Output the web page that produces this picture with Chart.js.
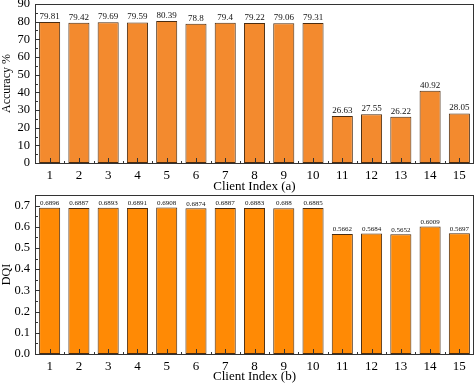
<!DOCTYPE html>
<html>
<head>
<meta charset="utf-8">
<script src="https://cdn.jsdelivr.net/npm/chart.js@4.4.1/dist/chart.umd.min.js"></script>
<style>
  html, body { margin: 0; padding: 0; background: #fff; }
  #quadro { position: relative; width: 474px; height: 384px; overflow: hidden; }
  canvas { position: absolute; left: 0; }
  #grafico-acuracia { top: 0; }
  #grafico-dqi { top: 190px; }
</style>
</head>
<body>
<div id="quadro">
  <canvas id="grafico-acuracia" width="474" height="194"></canvas>
  <canvas id="grafico-dqi" width="474" height="194"></canvas>
</div>
<script>
const clientes = ["1", "2", "3", "4", "5", "6", "7", "8", "9", "10", "11", "12", "13", "14", "15"];
const acuracia = [79.81, 79.42, 79.69, 79.59, 80.39, 78.8, 79.4, 79.22, 79.06, 79.31, 26.63, 27.55, 26.22, 40.92, 28.05];
const dqi = [0.6896, 0.6887, 0.6893, 0.6891, 0.6908, 0.6874, 0.6887, 0.6883, 0.688, 0.6885, 0.5662, 0.5684, 0.5652, 0.6009, 0.5697];
const ticksAcuracia = [0, 10, 20, 30, 40, 50, 60, 70, 80, 90];
const ticksDqi = [0, 0.1, 0.2, 0.3, 0.4, 0.5, 0.6, 0.7];

const fonte = "'Liberation Serif', 'Times New Roman', serif";

// moldura, ticks para dentro e rótulos em cima das barras
const eixos = {
  id: "eixos",
  afterDatasetsDraw(chart, args, opts) {
    const ctx = chart.ctx;
    const a = chart.chartArea;
    const x = chart.scales.x;
    const y = chart.scales.y;

    ctx.save();
    ctx.strokeStyle = "#333";
    ctx.lineWidth = 1;
    ctx.beginPath();
    y.ticks.forEach(t => {
      const py = Math.round(y.getPixelForValue(t.value)) + 0.5;
      ctx.moveTo(a.left, py);
      ctx.lineTo(a.left + 5, py);
      const meio = t.value + opts.passo / 2;
      if (meio < y.max) {
        const pm = Math.round(y.getPixelForValue(meio)) + 0.5;
        ctx.moveTo(a.left, pm);
        ctx.lineTo(a.left + 3, pm);
      }
    });
    clientes.forEach((c, i) => {
      const px = Math.round(x.getPixelForValue(i)) + 0.5;
      ctx.moveTo(px, a.bottom);
      ctx.lineTo(px, a.bottom - 5);
      if (i > 0) {
        const pm = Math.round((x.getPixelForValue(i - 1) + x.getPixelForValue(i)) / 2) + 0.5;
        ctx.moveTo(pm, a.bottom);
        ctx.lineTo(pm, a.bottom - 2);
      }
    });
    ctx.stroke();
    ctx.strokeRect(Math.round(a.left) + 0.5, Math.round(a.top) + 0.5,
      Math.round(a.right - a.left) - 1, Math.round(a.bottom - a.top));

    // rótulos de valor
    const valores = chart.data.datasets[0].data;
    ctx.fillStyle = "#111";
    ctx.font = opts.tamanho + "px " + fonte;
    ctx.textAlign = "center";
    ctx.textBaseline = "bottom";
    chart.getDatasetMeta(0).data.forEach((barra, i) => {
      ctx.fillText(String(valores[i]), barra.x, barra.y - 1);
    });
    ctx.restore();
  }
};

function criarGrafico(id, valores, o) {
  return new Chart(document.getElementById(id), {
    type: "bar",
    data: {
      labels: clientes,
      datasets: [{
        data: valores,
        backgroundColor: o.cor,
        borderColor: "#4a2c10",
        borderWidth: 1,
        borderSkipped: false,
        barPercentage: 0.72,
        categoryPercentage: 1
      }]
    },
    options: {
      responsive: false,
      animation: false,
      layout: { padding: { top: o.topo, left: 0, right: 0, bottom: 0 } },
      plugins: {
        legend: { display: false },
        tooltip: { enabled: false },
        eixos: { passo: o.passo, tamanho: o.tamRotulo }
      },
      scales: {
        x: {
          grid: { display: false, drawTicks: false },
          border: { display: false },
          ticks: { color: "#000", font: { family: fonte, size: 13 }, padding: 5, maxRotation: 0, autoSkip: false },
          title: { display: true, text: o.tituloX, color: "#000", font: { family: fonte, size: 13 }, padding: { top: 1, bottom: 0 } },
          afterFit(s) { s.height = o.alturaX; s.paddingLeft = 0; s.paddingRight = 0; }
        },
        y: {
          min: 0,
          max: o.max,
          grid: { display: false, drawTicks: false },
          border: { display: false },
          afterBuildTicks(s) { s.ticks = o.ticks.map(v => ({ value: v })); },
          ticks: { color: "#000", font: { family: fonte, size: 12.5 }, padding: 5, autoSkip: false, callback: o.formato },
          title: { display: true, text: o.tituloY, color: "#000", font: { family: fonte, size: 12 }, padding: { top: 0, bottom: 0 } },
          afterFit(s) { s.width = 35; s.paddingTop = 0; s.paddingBottom = 0; }
        }
      }
    },
    plugins: [eixos]
  });
}

criarGrafico("grafico-acuracia", acuracia, {
  cor: "#f38a2e",
  topo: 4,
  max: 90,
  passo: 10,
  ticks: ticksAcuracia,
  formato: v => String(v),
  tamRotulo: 9,
  alturaX: 31,
  tituloX: "Client Index (a)",
  tituloY: "Accuracy %"
});

criarGrafico("grafico-dqi", dqi, {
  cor: "#ff8a05",
  topo: 5,
  max: 0.75,
  passo: 0.1,
  ticks: ticksDqi,
  formato: v => v.toFixed(1),
  tamRotulo: 7,
  alturaX: 30,
  tituloX: "Client Index (b)",
  tituloY: "DQI"
});
</script>
</body>
</html>
